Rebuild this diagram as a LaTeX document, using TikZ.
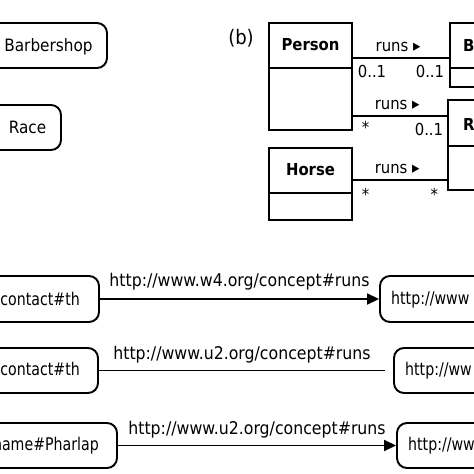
\documentclass[tikz,border=0pt]{standalone}
\usepackage{fontspec}
\setmainfont{DejaVu Sans}[FakeStretch=0.9]
\newfontfamily\narrowf{DejaVu Sans}[FakeStretch=0.81]
\usetikzlibrary{arrows.meta}
\begin{document}
\begin{tikzpicture}[x=1pt,y=-1pt,
  rbox/.style={draw,line width=1.9pt,rounded corners=10pt,inner sep=0},
  cls/.style={draw,line width=1.9pt,inner sep=0},
  txt/.style={inner sep=0,font=\fontsize{17}{20}\selectfont},
  url/.style={inner sep=0,font=\fontsize{17.5}{21}\selectfont},
  nurl/.style={inner sep=0,font=\fontsize{17.5}{21}\selectfont\narrowf},
  btxt/.style={inner sep=0,font=\fontsize{16.5}{20}\selectfont\bfseries},
  mult/.style={inner sep=0,font=\fontsize{16.5}{20}\selectfont},
  conn/.style={line width=1.8pt},
  arr/.style={conn,-{Triangle[length=12pt,width=11pt]}}]
\useasboundingbox (0,0) rectangle (474,474);

% ---- (a) ----
\node[rbox,minimum width=127pt,minimum height=45pt] (barb) at (43.5,45.5) {};
\node[txt,anchor=base] (barbt) at (48.5,51.7) {Barbershop};
\node[rbox,minimum width=81pt,minimum height=45pt] (race) at (20.5,127.5) {};
\node[txt,anchor=base] (racet) at (27.5,133.3) {Race};

% ---- (b) ----
\node[inner sep=0,font=\fontsize{20}{24}\selectfont] (blabel) at (241,38) {(b)};

\node[cls,minimum width=83pt,minimum height=107pt] (person) at (310.5,76.5) {};
\draw[line width=1.9pt] (269,68) -- (352,68);
\node[btxt] (persont) at (310.5,45) {Person};

\node[cls,minimum width=80pt,minimum height=64pt] (bcls) at (490,55) {};
\draw[line width=1.9pt] (450,68) -- (530,68);
\node[btxt,anchor=west] (bclst) at (463,45) {B};

\node[cls,minimum width=82pt,minimum height=90pt] (rcls) at (489,145) {};
\draw[line width=1.9pt] (448,146) -- (530,146);
\node[btxt,anchor=west] (rclst) at (463,124.5) {R};

\node[cls,minimum width=83pt,minimum height=72pt] (horse) at (310.5,184) {};
\draw[line width=1.9pt] (269,193) -- (352,193);
\node[btxt] (horset) at (310.5,169.5) {Horse};

\draw[conn] (person.east |- 0,58.3) --
  node[pos=.47,anchor=base,yshift=6.6pt,mult] {runs ▸}
  node[pos=0,anchor=north west,xshift=4pt,yshift=-6pt,mult] {0..1}
  node[pos=1,anchor=north east,xshift=-4pt,yshift=-6pt,mult] {0..1}
  (bcls.west |- 0,58.3);
\draw[conn] (person.east |- 0,115.7) --
  node[pos=.47,anchor=base,yshift=6.6pt,mult] {runs ▸}
  node[pos=0,anchor=north west,xshift=8pt,yshift=-5pt,mult] {*}
  node[pos=1,anchor=north east,xshift=-3pt,yshift=-7pt,mult] {0..1}
  (rcls.west |- 0,115.7);
\draw[conn] (horse.east |- 0,180) --
  node[pos=.47,anchor=base,yshift=6.6pt,mult] {runs ▸}
  node[pos=0,anchor=north west,xshift=8pt,yshift=-7pt,mult] {*}
  node[pos=1,anchor=north east,xshift=-8pt,yshift=-7pt,mult] {*}
  (rcls.west |- 0,180);

% ---- bottom ----
\node[rbox,minimum width=129pt,minimum height=46pt] (l1) at (34.5,299) {};
\node[nurl,anchor=base east] (l1t) at (80,305.3) {contact\#th};
\node[rbox,minimum width=140pt,minimum height=46pt] (r1) at (450,299) {};
\node[nurl,anchor=base west] (r1t) at (391,304.8) {http://www};
\draw[arr] (l1.east) -- node[above=8pt,url] {http://www.w4.org/concept\#runs} (r1.west);

\node[rbox,minimum width=128pt,minimum height=45pt] (l2) at (34,370.5) {};
\node[nurl,anchor=base east] (l2t) at (80,375.5) {contact\#th};
\node[rbox,minimum width=140pt,minimum height=45pt] (r2) at (464,370.5) {};
\node[nurl,anchor=base west] (r2t) at (405,375.5) {http://ww};
\coordinate (e2) at (385,370.5);
\draw[conn] (l2.east) -- node[above=6pt,url] {http://www.u2.org/concept\#runs} (e2);

\node[rbox,minimum width=147pt,minimum height=45pt] (l3) at (43.5,445.5) {};
\node[nurl,anchor=base east] (l3t) at (99,450.5) {name\#Pharlap};
\node[rbox,minimum width=140pt,minimum height=45pt] (r3) at (467,445.5) {};
\node[nurl,anchor=base west] (r3t) at (408,450.5) {http://ww};
\draw[arr] (l3.east) -- node[above=6pt,url] {http://www.u2.org/concept\#runs} (r3.west);
\end{tikzpicture}
\end{document}
